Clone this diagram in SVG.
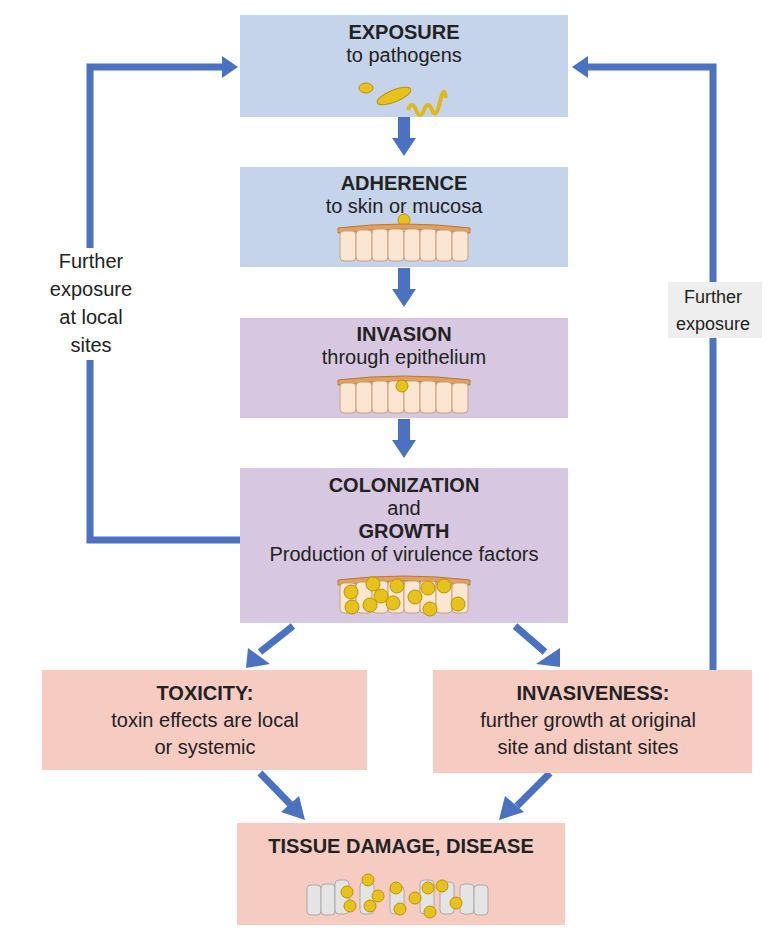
<svg xmlns="http://www.w3.org/2000/svg" width="780" height="932" viewBox="0 0 780 932">
<style>
text{font-family:"Liberation Sans",Arial,sans-serif;fill:#222;text-anchor:middle}
.b{font-weight:bold;font-size:20px}
.n{font-size:20px}
.blue{fill:#c5d4ea}.pur{fill:#d7c7e0}.pink{fill:#f6cbc2}
.cell{fill:#fbe6d2;stroke:#c8a080;stroke-width:1}
.top{fill:#e0a060;stroke:#b87838}
.bug{fill:#e8c21c;stroke:#b89400;stroke-width:1}
.gcell{fill:#e4e4e4;stroke:#aaa}
.ln{fill:none;stroke:#4a72c0;stroke-width:7}
.ah{fill:#4a72c0}
</style>
<defs>
<g id="epi">
<path class="top" d="M-66,-12 Q0,-20 66,-12 L66,-7 Q0,-15 -66,-7Z"/>
<rect class="cell" x="-64" y="-9" width="16" height="30" rx="4"/>
<rect class="cell" x="-48" y="-10" width="16" height="31" rx="4"/>
<rect class="cell" x="-32" y="-11" width="16" height="32" rx="4"/>
<rect class="cell" x="-16" y="-11" width="16" height="32" rx="4"/>
<rect class="cell" x="0" y="-11" width="16" height="32" rx="4"/>
<rect class="cell" x="16" y="-11" width="16" height="32" rx="4"/>
<rect class="cell" x="32" y="-10" width="16" height="31" rx="4"/>
<rect class="cell" x="48" y="-9" width="16" height="30" rx="4"/>
</g>
<polygon id="hd" points="-12,0 12,0 0,18" fill="#4a72c0"/>
</defs>
<g id="connectors">
<path class="ln" d="M240,540 H90 V67 H222"/>
<polygon class="ah" points="222,56 238,67 222,78"/>
<path class="ln" d="M713,672 V67 H588"/>
<polygon class="ah" points="588,56 572,67 588,78"/>
<rect x="398" y="117" width="12" height="22" class="ah"/><use href="#hd" x="404" y="138"/>
<rect x="398" y="268" width="12" height="22" class="ah"/><use href="#hd" x="404" y="289"/>
<rect x="398" y="419" width="12" height="22" class="ah"/><use href="#hd" x="404" y="440"/>
<g fill="#4a72c0">
<path class="ln" d="M293,626 L260,652"/><polygon points="248,648 270,664 246,668"/>
<path class="ln" d="M515,626 L545,652"/><polygon points="560,648 536,664 560,667"/>
<path class="ln" d="M260,773 L292,806"/><polygon points="281,812 305,820 299,796"/>
<path class="ln" d="M550,773 L517,806"/><polygon points="505,796 499,820 524,812"/>
</g>
<rect x="40" y="248" width="102" height="112" fill="#ffffff"/>
<text class="n" x="91" y="268">Further</text>
<text class="n" x="91" y="296">exposure</text>
<text class="n" x="91" y="324">at local</text>
<text class="n" x="91" y="352">sites</text>
<rect x="668" y="282" width="94" height="56" fill="#eeeeee"/>
<text class="n" x="713" y="303" style="font-size:18px">Further</text>
<text class="n" x="713" y="330" style="font-size:18px">exposure</text>
</g>
<g id="exposure">
<rect class="blue" x="240" y="15" width="328" height="102"/>
<text class="b" x="404" y="39">EXPOSURE</text>
<text class="n" x="404" y="62">to pathogens</text>
<ellipse class="bug" cx="366" cy="88" rx="7" ry="5"/>
<ellipse class="bug" cx="394" cy="96" rx="18" ry="6" transform="rotate(-22 394 96)"/>
<path d="M408,110 q4,-10 8,0 t8,0 t8,0 t8,-8 t6,-4" fill="none" stroke="#e0b81c" stroke-width="4"/>
</g>
<g id="adherence">
<rect class="blue" x="240" y="167" width="328" height="100"/>
<text class="b" x="404" y="190">ADHERENCE</text>
<text class="n" x="404" y="213">to skin or mucosa</text>
<circle class="bug" cx="404" cy="220" r="6"/>
<use href="#epi" x="404" y="240"/>
</g>
<g id="invasion">
<rect class="pur" x="240" y="318" width="328" height="100"/>
<text class="b" x="404" y="341">INVASION</text>
<text class="n" x="404" y="364">through epithelium</text>
<use href="#epi" x="404" y="392"/>
<circle class="bug" cx="402" cy="386" r="6"/>
</g>
<g id="colonization">
<rect class="pur" x="240" y="468" width="328" height="155"/>
<text class="b" x="404" y="492">COLONIZATION</text>
<text class="n" x="404" y="515">and</text>
<text class="b" x="404" y="538">GROWTH</text>
<text class="n" x="404" y="561">Production of virulence factors</text>
<use href="#epi" x="404" y="592"/>
<g class="bug">
<circle cx="351" cy="592" r="7"/><circle cx="373" cy="584" r="7"/><circle cx="397" cy="586" r="7"/><circle cx="428" cy="588" r="7"/><circle cx="444" cy="586" r="7"/>
<circle cx="381" cy="596" r="7"/><circle cx="415" cy="597" r="7"/><circle cx="458" cy="604" r="7"/>
<circle cx="352" cy="607" r="7"/><circle cx="370" cy="605" r="7"/><circle cx="393" cy="603" r="7"/><circle cx="430" cy="609" r="7"/>
</g>
</g>
<g id="toxicity">
<rect class="pink" x="42" y="670" width="325" height="100"/>
<text class="b" x="205" y="700">TOXICITY:</text>
<text class="n" x="205" y="727">toxin effects are local</text>
<text class="n" x="205" y="754">or systemic</text>
</g>
<g id="invasiveness">
<rect class="pink" x="433" y="670" width="319" height="103"/>
<text class="b" x="593" y="700">INVASIVENESS:</text>
<text class="n" x="588" y="727">further growth at original</text>
<text class="n" x="588" y="754">site and distant sites</text>
</g>
<g id="tissue">
<rect class="pink" x="237" y="823" width="328" height="102"/>
<text class="b" x="401" y="853">TISSUE DAMAGE, DISEASE</text>
<g class="gcell">
<rect x="307" y="885" width="14" height="30" rx="4"/><rect x="321" y="884" width="14" height="31" rx="4"/><rect x="335" y="880" width="14" height="34" rx="4"/>
<rect x="360" y="882" width="14" height="32" rx="4"/><rect x="390" y="886" width="14" height="28" rx="4"/><rect x="420" y="880" width="14" height="34" rx="4"/>
<rect x="440" y="882" width="14" height="32" rx="4"/><rect x="460" y="884" width="14" height="30" rx="4"/><rect x="474" y="885" width="14" height="30" rx="4"/>
</g>
<g class="bug">
<circle cx="368" cy="880" r="6"/><circle cx="347" cy="892" r="6"/><circle cx="378" cy="896" r="6"/><circle cx="396" cy="888" r="6"/>
<circle cx="415" cy="898" r="6"/><circle cx="428" cy="888" r="6"/><circle cx="442" cy="886" r="6"/><circle cx="456" cy="903" r="6"/>
<circle cx="350" cy="906" r="6"/><circle cx="370" cy="906" r="6"/><circle cx="400" cy="909" r="6"/><circle cx="430" cy="912" r="6"/>
</g>
</g>
</svg>
